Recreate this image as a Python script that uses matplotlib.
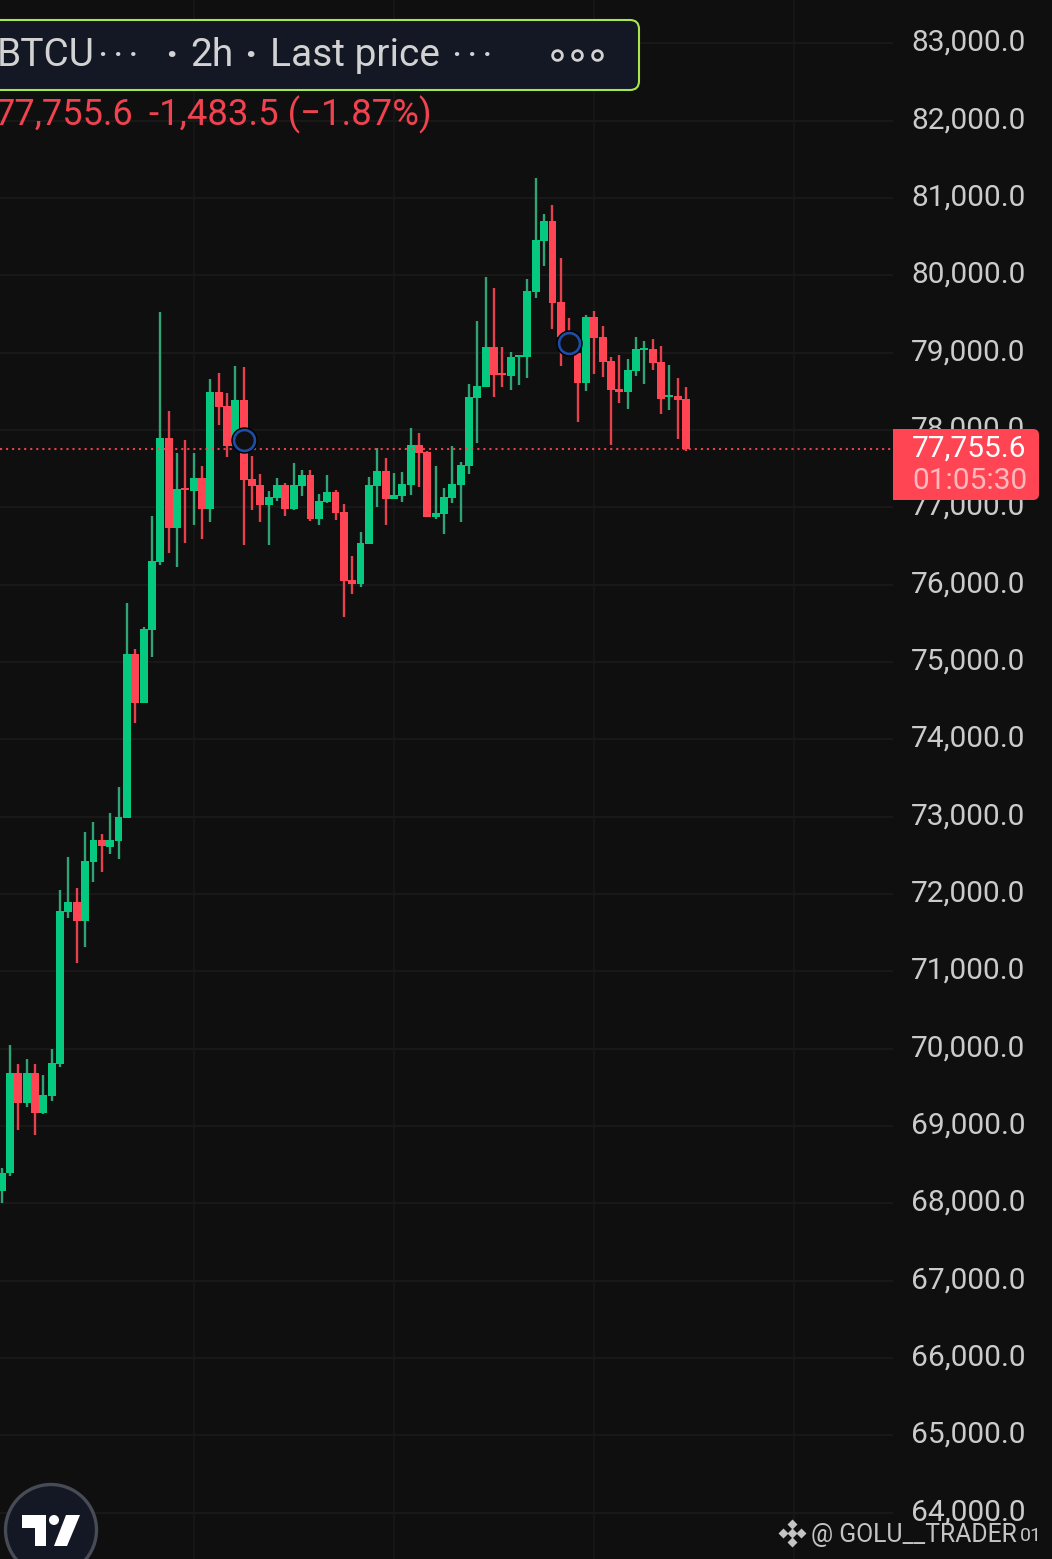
import matplotlib
matplotlib.use("Agg")
import matplotlib.pyplot as plt
from matplotlib.patches import FancyBboxPatch, Circle, Polygon, Rectangle
from matplotlib.ticker import FuncFormatter
from matplotlib.transforms import ScaledTranslation

plt.rcParams['font.family'] = ['Roboto', 'DejaVu Sans']

opens = [68160,68393,69686,69298,69686,69169,69389,69802,71768,71897,71651,72414,72699,72608,72686,72983,75104,74470,75414,76293,77897,76733,77250,77211,77379,76979,78491,78310,77793,78388,77367,77289,77030,77121,77289,76979,77276,77418,76849,77069,77198,76940,76061,76009,76526,77276,77470,77108,77147,77289,77806,77716,76875,76914,77121,77289,77535,78414,78556,79073,78737,78698,78944,78944,79784,80444,80702,79655,79203,78996,78608,79461,79203,78892,78530,78491,78763,79034,79047,78879,78427,78440,78401]
closes = [68393,69686,69298,69686,69169,69402,69815,71781,71897,71651,72427,72699,72621,72699,72996,75104,74470,75427,76306,77897,76733,77237,77224,77379,76979,78491,78297,77793,78388,77354,77276,77030,77134,77289,76979,77289,77418,76849,77082,77198,76927,76048,76009,76539,77289,77470,77108,77160,77302,77806,77703,76875,76927,77134,77302,77548,78427,78569,79073,78711,78711,78944,78970,79797,80457,80702,79642,79203,78996,78608,79461,79190,78879,78517,78491,78776,79047,79060,78866,78401,78453,78388,77755.6]
highs = [68458,70048,69802,69867,69802,69660,69996,72052,72479,72078,72802,72932,72776,73048,73384,75763,75168,75453,76888,79526,78246,77703,77871,77703,77535,78660,78737,78479,78828,78815,77664,77431,77211,77379,77315,77573,77483,77483,77173,77418,77224,77043,76371,76681,77392,77767,77638,77444,77457,78026,77961,77729,77535,77250,77793,77586,78595,79409,79978,79836,79073,79009,78970,79953,81258,80793,80909,80224,79448,79000,79487,79539,79345,78944,78970,78918,79203,79151,79177,79086,78841,78672,78556]
lows = [68005,68354,68949,69246,68884,69156,69324,69764,71690,71108,71315,72156,72285,72518,72453,72983,74212,74470,75065,76255,76410,76229,76539,76772,76591,76811,78065,77651,77793,76513,76966,76811,76513,77082,76888,76966,77147,76823,76772,77056,76836,75582,75880,75970,76526,77004,76772,77108,77069,77160,77263,76875,76849,76655,77056,76811,77431,77832,78556,78427,78556,78517,78582,78672,79707,80121,79306,78828,78996,78104,78504,78724,78685,77806,78349,78272,78698,78595,78776,78207,78259,77884,77729]
price_ticks = list(range(64000, 84000, 1000))
time_grid = [23, 47, 71, 95]
last_price = 77755.6
marker_idx = [29, 68]
marker_price = [77870, 79125]

BG = '#0F0F0F'
UP = '#05C97F'
DOWN = '#FF4553'
UP_WICK = '#2FA474'
DOWN_WICK = '#E5404C'
LABEL = '#CBCBCB'

W, H = 1052, 1559
AXW = 893
fig = plt.figure(figsize=(W / 100, H / 100), dpi=100, facecolor=BG)
ax = fig.add_axes([0, 0, AXW / W, 1], facecolor=BG)
ax.set_xlim(-1.7 / 8.345, (AXW - 1.7) / 8.345)
ax.set_ylim(83560 - 12.93 * H, 83560)
for s in ax.spines.values():
    s.set_visible(False)
ax.set_axisbelow(True)
ax.set_xticks(time_grid)
ax.set_xticklabels([])
ax.tick_params(axis='x', length=0)
ax.set_yticks(price_ticks)
ax.yaxis.tick_right()
ax.yaxis.set_major_formatter(FuncFormatter(lambda v, _: f"{v:,.1f}"))
ax.tick_params(axis='y', length=0, pad=13.2, labelsize=21.5, labelcolor=LABEL)
up_shift = ScaledTranslation(0, 3.5 / 72 * 0.72, fig.dpi_scale_trans)
for lab in ax.get_yticklabels():
    lab.set_transform(lab.get_transform() + up_shift)
ax.grid(True, axis='y', color='#181818', linewidth=1.5)
ax.grid(True, axis='x', color='#161616', linewidth=1.5)

for i, (o, h, l, c) in enumerate(zip(opens, highs, lows, closes)):
    up = c >= o
    ax.vlines(i, l, h, color=UP_WICK if up else DOWN_WICK, linewidth=1.7, zorder=3)
    ax.bar(i, abs(c - o), bottom=min(o, c), width=0.95, color=UP if up else DOWN,
           linewidth=0, zorder=4)

ax.axhline(last_price, color=DOWN, linewidth=1.5, linestyle=(0, (1.0, 1.9)), zorder=5, alpha=.9)
ax.plot(marker_idx, marker_price, linestyle='none', marker='o', ms=18, mfc='#000000', mec='#000000', zorder=6)
ax.plot(marker_idx, marker_price, linestyle='none', marker='o', ms=15, mfc=BG, mec='#1D4DA6', mew=1.9, zorder=7)

# interface layer, in pixel coordinates
ui = fig.add_axes([0, 0, 1, 1], facecolor='none')
ui.set_xlim(0, W)
ui.set_ylim(H, 0)
ui.axis('off')

ui.add_patch(FancyBboxPatch((-30, 20), 669, 70, boxstyle='round,pad=0,rounding_size=9',
                            fc='#131824', ec='#A9E54C', lw=1.5))
HEAD = '#D2D2D2'
ui.text(-3, 51.5, 'BTCU', color=HEAD, fontsize=28, va='center_baseline', ha='left')
ui.text(99, 55, '· · ·', color=HEAD, fontsize=20, va='center', ha='left', fontweight='bold')
ui.text(165, 51.5, '·', color=HEAD, fontsize=30, va='center_baseline', ha='left', fontweight='bold')
ui.text(190, 51.5, '2h', color=HEAD, fontsize=28, va='center_baseline', ha='left')
ui.text(244, 51.5, '·', color=HEAD, fontsize=30, va='center_baseline', ha='left', fontweight='bold')
ui.text(270, 51.5, 'Last price', color=HEAD, fontsize=28, va='center_baseline', ha='left')
ui.text(453, 55, '· · ·', color=HEAD, fontsize=20, va='center', ha='left', fontweight='bold')
ui.plot([557, 577, 597], [55, 55, 55], linestyle='none', marker='o', ms=7, mfc='none', mec=HEAD, mew=2)

RED_TXT = '#F0434F'
ui.text(-5, 110.5, '77,755.6', color=RED_TXT, fontsize=26, va='center_baseline', ha='left')
ui.text(149, 110.5, '-1,483.5 (−1.87%)', color=RED_TXT, fontsize=26.3, va='center_baseline', ha='left')

ui.add_patch(Rectangle((893, 429), 10, 71, fc='#FF4553', ec='none', zorder=8))
ui.add_patch(FancyBboxPatch((893, 429), 146, 71, boxstyle='round,pad=0,rounding_size=6',
                            fc='#FF4553', ec='none', zorder=8))
ui.text(969.5, 449, '77,755.6', color='#FFFFFF', fontsize=21.5, va='center', ha='center', zorder=9)
ui.text(969.5, 481, '01:05:30', color='#FFB9BE', fontsize=21.5, va='center', ha='center', zorder=9)

ui.add_patch(Circle((51, 1530), 45.5, fc='#131824', ec='#474B55', lw=2.4))
ui.add_patch(Polygon([(22, 1515), (46, 1515), (46, 1546), (35, 1546), (35, 1528), (22, 1528)], fc='white', ec='none'))
ui.add_patch(Circle((54, 1520), 5, fc='white', ec='none'))
ui.add_patch(Polygon([(66, 1515), (80, 1515), (67, 1546), (54, 1546)], fc='white', ec='none'))

WM = '#C4C4C4'
ui.plot([791.5, 791.5, 791.5, 782.5, 800.5], [1533, 1524, 1542, 1533, 1533], linestyle='none',
        marker='D', ms=5.2, mfc=WM, mec='none')
ui.text(811, 1535, '@ GOLU__TRADER', color=WM, fontsize=17.8, va='center', ha='left')
ui.text(1020, 1536, '01', color=WM, fontsize=14, va='center', ha='left')

fig.savefig('out.png', dpi=100, facecolor=BG)
